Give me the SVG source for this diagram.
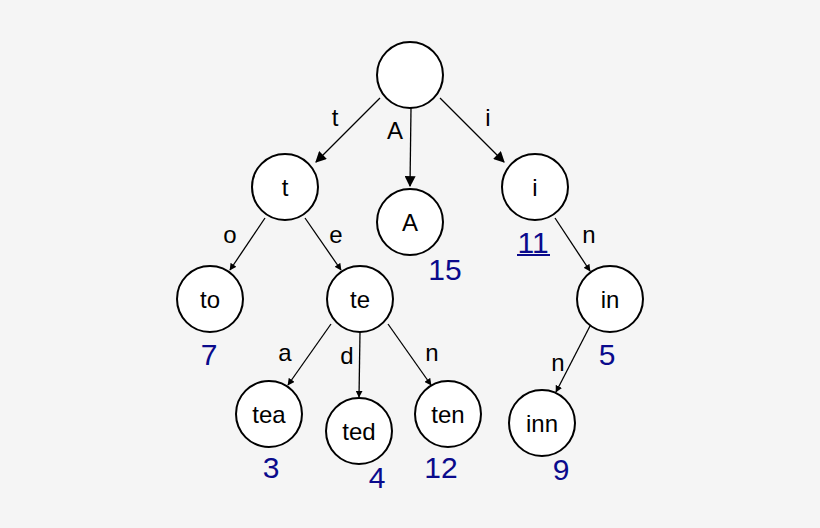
<svg xmlns="http://www.w3.org/2000/svg" width="820" height="528" viewBox="0 0 820 528">
<style>
.n{fill:#fff;stroke:#000;stroke-width:2}
.t{font-family:"Liberation Sans",Arial,sans-serif;font-size:24px;text-anchor:middle;fill:#000}
.v{font-family:"Liberation Sans",Arial,sans-serif;font-size:30px;text-anchor:middle;fill:#0a0a8c}
.e{stroke:#000;stroke-width:1.3;fill:none;marker-end:url(#a)}
</style>
<defs><marker id="a" viewBox="0 0 10 10" refX="9" refY="5" markerWidth="7" markerHeight="7" orient="auto" markerUnits="userSpaceOnUse"><path d="M0,0L10,5L0,10z" fill="#000"/></marker>
<marker id="b" viewBox="0 0 10 10" refX="9" refY="5" markerWidth="11" markerHeight="11" orient="auto" markerUnits="userSpaceOnUse"><path d="M0,0L10,5L0,10z" fill="#000"/></marker></defs>
<rect width="820" height="528" fill="#f5f5f5"/>
<g id="connectors">
<line class="e" style="marker-end:url(#b)" x1="380" y1="98" x2="316" y2="162"/>
<line class="e" style="marker-end:url(#b)" x1="411" y1="108" x2="410" y2="186"/>
<line class="e" style="marker-end:url(#b)" x1="440" y1="98" x2="504" y2="162"/>
<line class="e" x1="265" y1="218" x2="230" y2="270"/>
<line class="e" x1="305" y1="218" x2="341" y2="270"/>
<line class="e" x1="555" y1="218" x2="590" y2="271"/>
<line class="e" x1="331" y1="324" x2="288" y2="385"/>
<line class="e" x1="360" y1="332" x2="359" y2="397"/>
<line class="e" x1="388" y1="324" x2="431" y2="385"/>
<line class="e" x1="590" y1="326" x2="556" y2="392"/>
</g>
<g class="t">
<text x="335" y="126">t</text><text x="395" y="139">A</text><text x="488" y="126">i</text>
<text x="230" y="243">o</text><text x="336" y="243">e</text><text x="589" y="243">n</text>
<text x="285" y="361">a</text><text x="347" y="364">d</text><text x="432" y="361">n</text><text x="558" y="371">n</text>
</g>
<g id="root"><circle class="n" cx="410" cy="75" r="33"/></g>
<g id="t"><circle class="n" cx="285" cy="187" r="33"/><text class="t" x="285" y="196">t</text></g>
<g id="A"><circle class="n" cx="410" cy="222" r="33"/><text class="t" x="410" y="231">A</text><text class="v" x="445" y="280">15</text></g>
<g id="i"><circle class="n" cx="535" cy="187" r="33"/><text class="t" x="535" y="196">i</text><text class="v" x="533" y="253">11</text><line x1="517" y1="255" x2="550" y2="255" stroke="#0a0a8c" stroke-width="2"/></g>
<g id="to"><circle class="n" cx="210" cy="299" r="33"/><text class="t" x="210" y="308">to</text><text class="v" x="209" y="365">7</text></g>
<g id="te"><circle class="n" cx="360" cy="299" r="33"/><text class="t" x="360" y="308">te</text></g>
<g id="in"><circle class="n" cx="610" cy="299" r="33"/><text class="t" x="610" y="308">in</text><text class="v" x="607" y="365">5</text></g>
<g id="tea"><circle class="n" cx="269" cy="414" r="33"/><text class="t" x="269" y="423">tea</text><text class="v" x="271" y="478">3</text></g>
<g id="ted"><circle class="n" cx="359" cy="431" r="33"/><text class="t" x="359" y="440">ted</text><text class="v" x="377" y="488">4</text></g>
<g id="ten"><circle class="n" cx="448" cy="414" r="33"/><text class="t" x="448" y="423">ten</text><text class="v" x="441" y="478">12</text></g>
<g id="inn"><circle class="n" cx="542" cy="423" r="33"/><text class="t" x="542" y="432">inn</text><text class="v" x="561" y="480">9</text></g>
</svg>
